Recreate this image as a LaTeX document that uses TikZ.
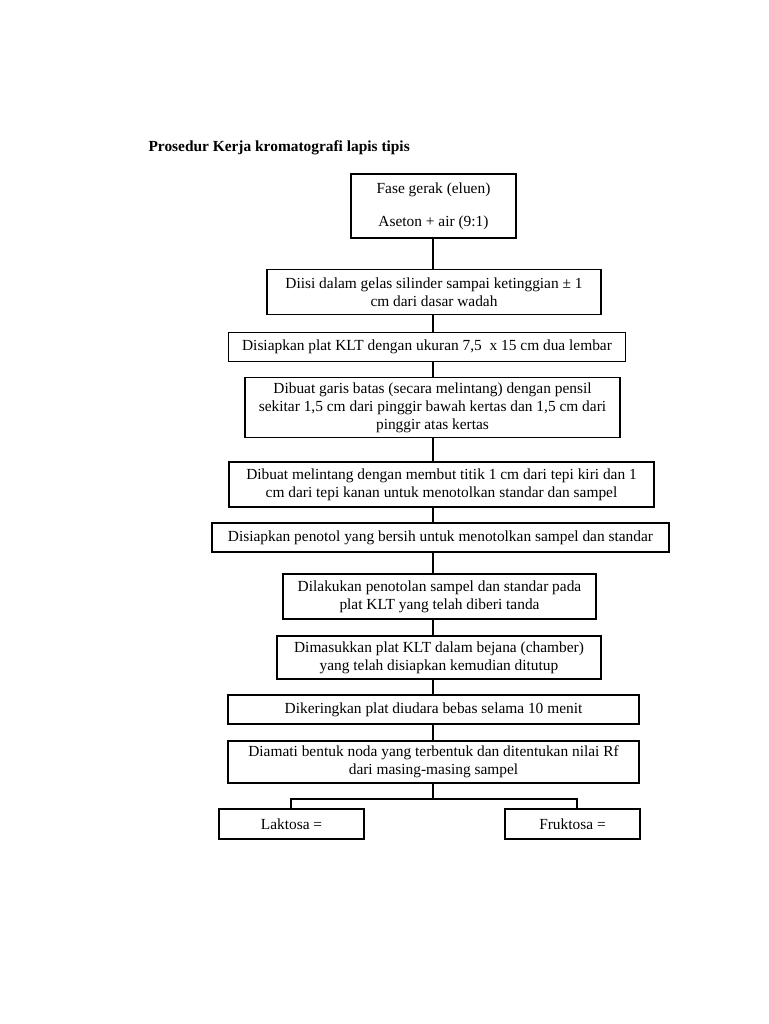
\documentclass[tikz,border=0pt]{standalone}
\usepackage{fontspec}
\setmainfont{Liberation Serif}
\begin{document}
\begin{tikzpicture}[x=1pt,y=-1pt,
  box/.style={draw,line width=1.1pt,inner sep=0pt,align=center,
    font=\fontsize{15.4}{18}\selectfont},
  conn/.style={line width=1.1pt}]
\useasboundingbox (0,0) rectangle (768,1024);
\node[anchor=base west,font=\fontsize{15.4}{18}\selectfont\bfseries] (title) at (145,152) {Prosedur Kerja kromatografi lapis tipis};
\coordinate (sp) at (433,0);
\node[box,minimum width=165pt,minimum height=64pt] (n1) at (433.5,206) {Fase gerak (eluen)\\[15pt]Aseton + air (9:1)};
\node[box,minimum width=334pt,minimum height=45pt] (n2) at (434,292) {Diisi dalam gelas silinder sampai ketinggian ± 1\\cm dari dasar wadah};
\node[box,minimum width=397pt,minimum height=29pt] (n3) at (427,347) {Disiapkan plat KLT dengan ukuran 7,5\ \ x 15 cm dua lembar};
\node[box,minimum width=375pt,minimum height=60pt] (n4) at (432.5,407.5) {Dibuat garis batas (secara melintang) dengan pensil\\sekitar 1,5 cm dari pinggir bawah kertas dan 1,5 cm dari\\pinggir atas kertas};
\node[box,minimum width=425pt,minimum height=45pt] (n5) at (441.5,484.5) {Dibuat melintang dengan membut titik 1 cm dari tepi kiri dan 1\\cm dari tepi kanan untuk menotolkan standar dan sampel};
\node[box,minimum width=457pt,minimum height=29pt] (n6) at (440.5,537.5) {Disiapkan penotol yang bersih untuk menotolkan sampel dan standar};
\node[box,minimum width=313pt,minimum height=45pt] (n7) at (439.5,596.5) {Dilakukan penotolan sampel dan standar pada\\plat KLT yang telah diberi tanda};
\node[box,minimum width=324pt,minimum height=43pt] (n8) at (439,657.5) {Dimasukkan plat KLT dalam bejana (chamber)\\yang telah disiapkan kemudian ditutup};
\node[box,minimum width=411pt,minimum height=29pt] (n9) at (433.5,709.5) {Dikeringkan plat diudara bebas selama 10 menit};
\node[box,minimum width=411pt,minimum height=42pt] (n10) at (433.5,762) {Diamati bentuk noda yang terbentuk dan ditentukan nilai Rf\\dari masing-masing sampel};
\node[box,minimum width=145pt,minimum height=30pt] (n11) at (291.5,824) {Laktosa =};
\node[box,minimum width=135pt,minimum height=30pt] (n12) at (572.5,824) {Fruktosa =};
\coordinate (bl) at (291,799);
\coordinate (br) at (577,799);
\foreach \a/\b in {n1/n2,n2/n3,n3/n4,n4/n5,n5/n6,n6/n7,n7/n8,n8/n9,n9/n10}
  \draw[conn] (\a.south -| sp) -- (\b.north -| sp);
\draw[conn] (n10.south -| sp) -- (sp |- bl);
\draw[conn] (n11.north -| bl) -- (bl) -- (br) -- (n12.north -| br);
\end{tikzpicture}
\end{document}
